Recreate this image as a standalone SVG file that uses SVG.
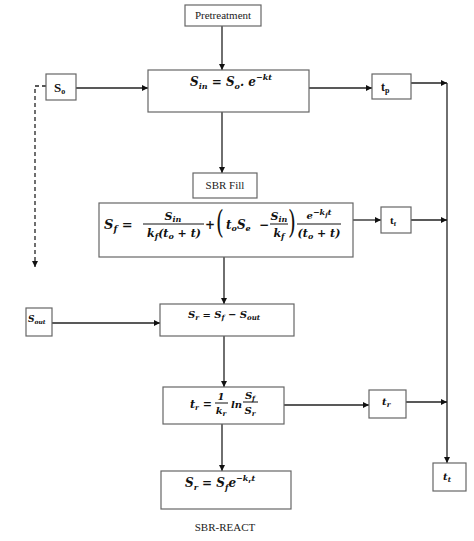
<svg xmlns="http://www.w3.org/2000/svg" width="474" height="541" viewBox="0 0 474 541">
<defs>
<marker id="ah" viewBox="0 0 10 10" refX="10" refY="5" markerWidth="6" markerHeight="6" orient="auto" markerUnits="userSpaceOnUse"><path d="M0,0 L10,5 L0,10 z" fill="#111"/></marker>
<style>
.box{fill:#fff;stroke:#666;stroke-width:1.2}
.ln{fill:none;stroke:#222;stroke-width:1.3}
.dash{fill:none;stroke:#222;stroke-width:1.3;stroke-dasharray:4,3}
.lbl{font-family:"Liberation Serif",serif;font-size:11px;fill:#222}
.m{font-family:"DejaVu Serif",serif;font-weight:bold;font-style:italic;fill:#111}
.b{font-family:"Liberation Serif",serif;font-weight:bold;fill:#111}
.par{font-family:"DejaVu Serif",serif;font-size:20px;fill:#111}
.fl{stroke:#111;stroke-width:1}
</style>
</defs>
<rect width="474" height="541" fill="#fff"/>
<g id="connectors">
<path class="ln" d="M222,26 V70" marker-end="url(#ah)"/>
<path class="ln" d="M76,88 H148" marker-end="url(#ah)"/>
<path class="ln" d="M309,88 H372" marker-end="url(#ah)"/>
<path class="ln" d="M411,83 H447" marker-end="url(#ah)"/>
<path class="ln" d="M447,83 V463" marker-end="url(#ah)"/>
<path class="ln" d="M222,112 V173" marker-end="url(#ah)"/>
<path class="ln" d="M353,220 H381" marker-end="url(#ah)"/>
<path class="ln" d="M411,220 H447" marker-end="url(#ah)"/>
<path class="ln" d="M224,257 V304" marker-end="url(#ah)"/>
<path class="ln" d="M52,323 H160" marker-end="url(#ah)"/>
<path class="ln" d="M224,336 V387" marker-end="url(#ah)"/>
<path class="ln" d="M284,405 H369" marker-end="url(#ah)"/>
<path class="ln" d="M406,402 H447" marker-end="url(#ah)"/>
<path class="ln" d="M222,424 V471" marker-end="url(#ah)"/>
<path class="dash" d="M46,86 H35 V267" marker-end="url(#ah)"/>
</g>
<g id="pretreatment">
<rect class="box" x="185" y="5" width="76" height="21"/>
<text class="lbl" x="223" y="19" text-anchor="middle">Pretreatment</text>
</g>
<g id="so">
<rect class="box" x="46" y="74" width="30" height="26"/>
<text class="b" x="54" y="92" font-size="13">S<tspan font-size="8" dy="2">o</tspan></text>
</g>
<g id="sin">
<rect class="box" x="148" y="70" width="161" height="42"/>
<text class="m" x="190" y="86" font-size="12">S<tspan dy="3" font-size="8">in</tspan><tspan dy="-3"> = S</tspan><tspan dy="3" font-size="8">o</tspan><tspan dy="-3">. e</tspan><tspan dy="-6" font-size="8">−kt</tspan></text>
</g>
<g id="tp">
<rect class="box" x="372" y="74" width="39" height="25"/>
<text class="b" x="381" y="91" font-size="12">t<tspan font-size="8" dy="2">p</tspan></text>
</g>
<g id="sbrfill">
<rect class="box" x="193" y="173" width="64" height="25"/>
<text class="lbl" x="225" y="189" text-anchor="middle">SBR Fill</text>
</g>
<g id="sf">
<rect class="box" x="99" y="203" width="254" height="54"/>
<text class="m" x="104" y="229" font-size="13">S<tspan font-size="9" dy="3">f</tspan><tspan dy="-3"> =</tspan></text>
<text class="m" x="173" y="220" font-size="11" text-anchor="middle">S<tspan font-size="8" dy="2">in</tspan></text>
<line class="fl" x1="143" y1="224" x2="204" y2="224"/>
<text class="m" x="174" y="237" font-size="11" text-anchor="middle">k<tspan font-size="8" dy="2">f</tspan><tspan dy="-2">(t</tspan><tspan font-size="8" dy="2">o</tspan><tspan dy="-2"> + t)</tspan></text>
<text class="m" x="205" y="229" font-size="12">+</text>
<text class="par" transform="translate(216,233) scale(1,1.6)">(</text>
<text class="m" x="226" y="229" font-size="12">t<tspan font-size="8" dy="2">o</tspan><tspan dy="-2">S</tspan><tspan font-size="8" dy="2">e</tspan></text>
<text class="m" x="259" y="229" font-size="12">−</text>
<text class="m" x="279" y="220" font-size="11" text-anchor="middle">S<tspan font-size="8" dy="2">in</tspan></text>
<line class="fl" x1="270" y1="224" x2="288" y2="224"/>
<text class="m" x="279" y="237" font-size="11" text-anchor="middle">k<tspan font-size="8" dy="2">f</tspan></text>
<text class="par" transform="translate(288,233) scale(1,1.6)">)</text>
<text class="m" x="319" y="219" font-size="10" text-anchor="middle">e<tspan font-size="8" dy="-4">−k</tspan><tspan font-size="6" dy="2">f</tspan><tspan font-size="8" dy="-2">t</tspan></text>
<line class="fl" x1="297" y1="224" x2="341" y2="224"/>
<text class="m" x="319" y="237" font-size="11" text-anchor="middle">(t<tspan font-size="8" dy="2">o</tspan><tspan dy="-2"> + t)</tspan></text>
</g>
<g id="tf">
<rect class="box" x="381" y="207" width="30" height="26"/>
<text class="b" x="390" y="224" font-size="11">t<tspan font-size="7" dy="2">f</tspan></text>
</g>
<g id="sout">
<rect class="box" x="26" y="308" width="26" height="28"/>
<text class="m" x="28" y="322" font-size="9">S<tspan font-size="6" dy="2">out</tspan></text>
</g>
<g id="sr">
<rect class="box" x="160" y="304" width="134" height="32"/>
<text class="m" x="188" y="318" font-size="10">S<tspan font-size="7" dy="2">r</tspan><tspan dy="-2"> = S</tspan><tspan font-size="7" dy="2">f</tspan><tspan dy="-2"> − S</tspan><tspan font-size="7" dy="2">out</tspan></text>
</g>
<g id="trbox">
<rect class="box" x="163" y="387" width="121" height="37"/>
<text class="m" x="190" y="408" font-size="11">t<tspan font-size="7" dy="2">r</tspan><tspan dy="-2"> =</tspan></text>
<text class="m" x="221" y="400" font-size="10" text-anchor="middle">1</text>
<line class="fl" x1="215" y1="403" x2="228" y2="403"/>
<text class="m" x="221" y="414" font-size="10" text-anchor="middle">k<tspan font-size="7" dy="2">r</tspan></text>
<text class="m" x="231" y="408" font-size="10">ln</text>
<text class="m" x="250" y="399" font-size="10" text-anchor="middle">S<tspan font-size="7" dy="2">f</tspan></text>
<line class="fl" x1="243" y1="402" x2="258" y2="402"/>
<text class="m" x="250" y="414" font-size="10" text-anchor="middle">S<tspan font-size="7" dy="2">r</tspan></text>
</g>
<g id="tr">
<rect class="box" x="369" y="390" width="37" height="28"/>
<text class="m" x="382" y="405" font-size="10">t<tspan font-size="7" dy="2">r</tspan></text>
</g>
<g id="sr2">
<rect class="box" x="161" y="471" width="130" height="38"/>
<text class="m" x="185" y="487" font-size="12">S<tspan font-size="8" dy="3">r</tspan><tspan dy="-3"> = S</tspan><tspan font-size="8" dy="3">f</tspan><tspan dy="-3">e</tspan><tspan font-size="8" dy="-6">−k</tspan><tspan font-size="6" dy="2">r</tspan><tspan font-size="8" dy="-2">t</tspan></text>
</g>
<g id="tt">
<rect class="box" x="433" y="463" width="33" height="28"/>
<text class="m" x="443" y="480" font-size="10">t<tspan font-size="7" dy="2">t</tspan></text>
</g>
<text class="lbl" x="225" y="531" text-anchor="middle" font-size="10">SBR-REACT</text>
</svg>
